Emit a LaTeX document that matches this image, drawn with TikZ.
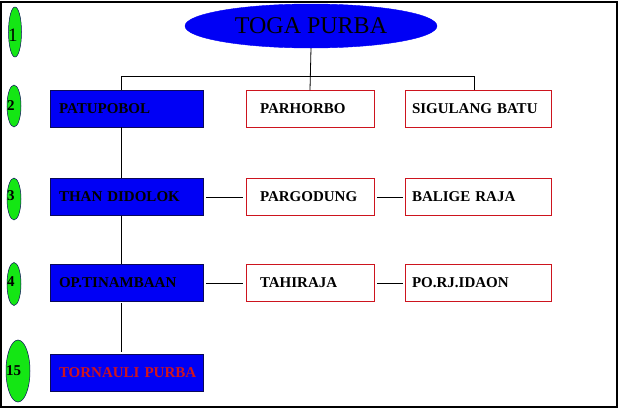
\documentclass[tikz,border=0pt]{standalone}
\usepackage{fontspec}
\setmainfont{Liberation Serif}
\usetikzlibrary{shapes.geometric}
\definecolor{boxblue}{RGB}{0,0,245}
\definecolor{boxred}{RGB}{205,20,30}
\definecolor{lvlgreen}{RGB}{20,230,20}
\definecolor{navyedge}{RGB}{10,10,90}
\tikzset{
  bluebox/.style={draw=navyedge, line width=0.8pt, fill=boxblue, rectangle, minimum width=153pt, minimum height=37pt,
     text width=135pt, inner xsep=9pt, align=left, font=\fontsize{15}{17}\selectfont\bfseries, text=black},
  redbox/.style={draw=boxred, line width=0.9pt, fill=white, rectangle, minimum height=37pt,
     align=left, font=\fontsize{15}{17}\selectfont\bfseries, text=black},
  midbox/.style={redbox, minimum width=128pt, text width=100pt, inner xsep=0pt},
  rightbox/.style={redbox, minimum width=146pt, text width=132pt, inner xsep=7pt},
  lvl/.style={draw=navyedge, line width=0.5pt, fill=lvlgreen, ellipse, inner sep=0pt},
  lvlnum/.style={anchor=west, inner sep=0pt, font=\fontsize{15}{16}\selectfont\bfseries},
  link/.style={draw=black, line width=0.8pt}
}
\begin{document}
\begin{tikzpicture}[x=1pt,y=-1pt]
\useasboundingbox (0,0) rectangle (619,410);
\draw[line width=1.5pt] (1,2) rectangle (617,407);

% top ellipse
\node[ellipse, fill=boxblue, draw=boxblue, minimum width=252pt, minimum height=44pt, inner sep=0pt,
      font=\fontsize{24}{26}\selectfont] (toga) at (311,26) {TOGA PURBA};

% level markers
\node[lvl, minimum width=13pt, minimum height=50pt] (g1) at (15,32) {};
\node[anchor=west, inner sep=0pt, font=\fontsize{19}{20}\selectfont] (n1) at (8,35) {1};
\node[lvl, minimum width=14pt, minimum height=42pt] (g2) at (14,106) {};
\node[lvlnum] (n2) at (7,106) {2};
\node[lvl, minimum width=14pt, minimum height=42pt] (g3) at (14,199) {};
\node[lvlnum] (n3) at (7,196) {3};
\node[lvl, minimum width=14pt, minimum height=43pt] (g4) at (14,284) {};
\node[lvlnum] (n4) at (7,282) {4};
\node[lvl, minimum width=24pt, minimum height=62pt] (g15) at (18,371) {};
\node[lvlnum] (n15) at (6,371) {15};

% left column
\node[bluebox] (patupobol) at (126.5,108.5) {PATUPOBOL};
\node[bluebox] (than) at (126.5,197) {THAN DIDOLOK};
\node[bluebox] (op) at (126.5,283) {OP.TINAMBAAN};
\node[bluebox, text=boxred] (tornauli) at (126.5,372.5) {\mbox{TORNAULI PURBA}};

% middle column
\node[midbox] (parhorbo) at (310,109) {PARHORBO};
\node[midbox] (pargodung) at (310,197) {PARGODUNG};
\node[midbox] (tahiraja) at (310,283) {TAHIRAJA};

% right column
\node[rightbox] (sigulang) at (478,109) {SIGULANG BATU};
\node[rightbox] (balige) at (478,197) {BALIGE RAJA};
\node[rightbox] (porj) at (478,283) {PO.RJ.IDAON};

% connectors
\draw[link] (toga.south) -- (parhorbo.north);
\draw[link] ([xshift=-5.5pt]patupobol.north) -- ++(0,-13) -| ([xshift=-4pt]sigulang.north);
\draw[link] ([xshift=-5.5pt]patupobol.south) -- ([xshift=-5.5pt]than.north);
\draw[link] ([xshift=-5.5pt]than.south) -- ([xshift=-5.5pt]op.north);
\draw[link, shorten <=1pt, shorten >=2pt] ([xshift=-5.5pt]op.south) -- ([xshift=-5.5pt]tornauli.north);
\draw[link, shorten <=3pt, shorten >=3pt] (than.east) -- (pargodung.west);
\draw[link, shorten <=3pt, shorten >=2pt] (pargodung.east) -- (balige.west);
\draw[link, shorten <=3pt, shorten >=3pt] (op.east) -- (tahiraja.west);
\draw[link, shorten <=3pt, shorten >=2pt] (tahiraja.east) -- (porj.west);
\end{tikzpicture}
\end{document}
